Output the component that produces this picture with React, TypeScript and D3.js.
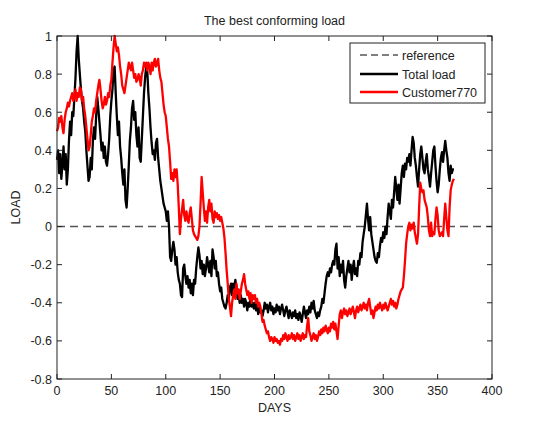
import React from "react";
import * as d3 from "d3";

const title = "The best conforming load";
const xLabel = "DAYS";
const yLabel = "LOAD";
const xTicks = [0, 50, 100, 150, 200, 250, 300, 350, 400];
const yTicks = [-0.8, -0.6, -0.4, -0.2, 0, 0.2, 0.4, 0.6, 0.8, 1];
const legendLabels = ["reference", "Total load", "Customer770"];
const referenceValue = 0;

// Daily values, day index 0..365
const totalLoad = [
  0.35, 0.40, 0.28, 0.38, 0.25, 0.33, 0.42, 0.30, 0.38, 0.22,
  0.30, 0.45, 0.55, 0.48, 0.60, 0.58, 0.68, 0.78, 0.92, 1.00,
  0.88, 0.80, 0.72, 0.66, 0.62, 0.55, 0.50, 0.40, 0.32, 0.24,
  0.26, 0.36, 0.30, 0.45, 0.52, 0.46, 0.58, 0.68, 0.62, 0.55,
  0.48, 0.40, 0.44, 0.36, 0.42, 0.34, 0.32, 0.38, 0.46, 0.58,
  0.66, 0.72, 0.82, 0.84, 0.70, 0.58, 0.48, 0.55, 0.42, 0.36,
  0.28, 0.22, 0.30, 0.14, 0.10, 0.20, 0.32, 0.45, 0.52, 0.62,
  0.66, 0.56, 0.60, 0.48, 0.42, 0.52, 0.36, 0.34, 0.46, 0.58,
  0.70, 0.78, 0.84, 0.82, 0.70, 0.62, 0.52, 0.44, 0.38, 0.40,
  0.35, 0.44, 0.46, 0.36, 0.30, 0.24, 0.20, 0.16, 0.12, 0.10,
  0.08, 0.03, 0.08, 0.00, -0.16, -0.18, -0.12, -0.08, -0.12, -0.20,
  -0.16, -0.24, -0.28, -0.30, -0.36, -0.37, -0.22, -0.20, -0.26, -0.30,
  -0.26, -0.32, -0.28, -0.35, -0.30, -0.36, -0.28, -0.30, -0.22, -0.16,
  -0.11, -0.15, -0.22, -0.18, -0.25, -0.20, -0.26, -0.22, -0.16, -0.20,
  -0.24, -0.18, -0.26, -0.12, -0.16, -0.22, -0.18, -0.26, -0.24, -0.30,
  -0.34, -0.32, -0.38, -0.40, -0.42, -0.43, -0.40, -0.36, -0.38, -0.32,
  -0.30, -0.36, -0.30, -0.34, -0.28, -0.32, -0.38, -0.36, -0.40, -0.36,
  -0.40, -0.38, -0.42, -0.38, -0.40, -0.44, -0.40, -0.42, -0.38, -0.42,
  -0.40, -0.43, -0.40, -0.44, -0.40, -0.46, -0.42, -0.45, -0.44, -0.47,
  -0.44, -0.40, -0.43, -0.41, -0.45, -0.42, -0.40, -0.44, -0.42, -0.46,
  -0.43, -0.45, -0.41, -0.44, -0.42, -0.46, -0.43, -0.41, -0.44, -0.47,
  -0.44, -0.42, -0.45, -0.48, -0.44, -0.46, -0.48, -0.45, -0.47, -0.44,
  -0.48, -0.46, -0.49, -0.45, -0.47, -0.50, -0.46, -0.42, -0.45, -0.48,
  -0.44, -0.46, -0.42, -0.45, -0.40, -0.43, -0.39, -0.44, -0.46, -0.48,
  -0.45, -0.47, -0.44, -0.42, -0.38, -0.40, -0.35, -0.30, -0.26, -0.24,
  -0.26, -0.22, -0.24, -0.20, -0.18, -0.20, -0.12, -0.09, -0.22, -0.16,
  -0.26, -0.20, -0.24, -0.18, -0.28, -0.32, -0.26, -0.22, -0.18, -0.24,
  -0.20, -0.28, -0.22, -0.18, -0.25, -0.22, -0.26, -0.18, -0.20, -0.14,
  -0.16, -0.08, -0.04, 0.00, 0.06, 0.12, 0.04, -0.02, 0.05, -0.04,
  -0.08, -0.12, -0.16, -0.18, -0.19, -0.14, -0.16, -0.10, -0.06, -0.08,
  -0.03, -0.06, 0.00, -0.04, 0.05, 0.12, 0.08, 0.04, 0.14, 0.10,
  0.18, 0.26, 0.20, 0.14, 0.22, 0.12, 0.20, 0.28, 0.32, 0.26,
  0.33, 0.30, 0.36, 0.34, 0.38, 0.32, 0.40, 0.47, 0.44, 0.36,
  0.32, 0.26, 0.21, 0.30, 0.38, 0.42, 0.36, 0.30, 0.28, 0.34,
  0.38, 0.30, 0.26, 0.21, 0.28, 0.34, 0.40, 0.42, 0.32, 0.24,
  0.18, 0.22, 0.30, 0.36, 0.39, 0.34, 0.40, 0.45, 0.40, 0.36,
  0.28, 0.24, 0.32, 0.28, 0.30, 0.30,
];

const customer770 = [
  0.50, 0.52, 0.57, 0.55, 0.58, 0.52, 0.49, 0.56, 0.60, 0.62,
  0.65, 0.63, 0.66, 0.68, 0.70, 0.66, 0.68, 0.72, 0.66, 0.70,
  0.68, 0.73, 0.72, 0.66, 0.68, 0.62, 0.58, 0.52, 0.46, 0.40,
  0.42, 0.48, 0.55, 0.58, 0.62, 0.60, 0.66, 0.70, 0.74, 0.77,
  0.72, 0.66, 0.62, 0.64, 0.68, 0.64, 0.66, 0.70, 0.68, 0.74,
  0.77, 0.86, 0.94, 1.00, 0.96, 0.92, 0.94, 0.90, 0.84, 0.80,
  0.74, 0.72, 0.70, 0.74, 0.78, 0.82, 0.86, 0.84, 0.82, 0.86,
  0.82, 0.78, 0.80, 0.76, 0.77, 0.80, 0.78, 0.74, 0.80, 0.82,
  0.86, 0.84, 0.86, 0.82, 0.86, 0.84, 0.80, 0.86, 0.82, 0.86,
  0.88, 0.84, 0.86, 0.88, 0.82, 0.78, 0.76, 0.70, 0.64, 0.60,
  0.58, 0.52, 0.46, 0.42, 0.34, 0.25, 0.28, 0.24, 0.30, 0.26,
  0.30, 0.22, 0.10, -0.04, 0.04, 0.09, 0.14, 0.06, 0.03, 0.08,
  0.04, 0.02, 0.07, 0.10, 0.04, -0.02, -0.04, -0.05, -0.06, -0.07,
  -0.05, 0.00, 0.12, 0.26, 0.18, 0.10, 0.03, 0.08, 0.02, 0.10,
  0.14, 0.08, 0.12, 0.04, 0.02, 0.08, 0.05, 0.07, 0.04, 0.06,
  0.03, 0.05, 0.02, -0.01, -0.06, -0.14, -0.23, -0.30, -0.38, -0.42,
  -0.47, -0.40, -0.36, -0.33, -0.38, -0.30, -0.35, -0.33, -0.38, -0.34,
  -0.30, -0.28, -0.25, -0.30, -0.33, -0.36, -0.34, -0.38, -0.35, -0.40,
  -0.36, -0.38, -0.36, -0.40, -0.38, -0.42, -0.40, -0.42, -0.46, -0.50,
  -0.49, -0.52, -0.54, -0.56, -0.55, -0.58, -0.60, -0.58, -0.59, -0.61,
  -0.58, -0.60, -0.59, -0.61, -0.60, -0.62, -0.59, -0.60, -0.57, -0.59,
  -0.56, -0.58, -0.60, -0.57, -0.59, -0.58, -0.56, -0.59, -0.57, -0.60,
  -0.58, -0.56, -0.59, -0.57, -0.60, -0.58, -0.56, -0.59, -0.57, -0.58,
  -0.52, -0.48, -0.55, -0.57, -0.60, -0.58, -0.56, -0.59, -0.57, -0.60,
  -0.58, -0.55, -0.57, -0.54, -0.56, -0.53, -0.55, -0.52, -0.54, -0.56,
  -0.53, -0.55, -0.51, -0.53, -0.50, -0.54, -0.51, -0.55, -0.59, -0.52,
  -0.46, -0.44, -0.48, -0.45, -0.43, -0.46, -0.44, -0.47, -0.45, -0.43,
  -0.46, -0.44, -0.42, -0.45, -0.48, -0.44, -0.42, -0.45, -0.43, -0.41,
  -0.44, -0.42, -0.40, -0.43, -0.41, -0.44, -0.40, -0.38, -0.42, -0.46,
  -0.44, -0.48, -0.45, -0.42, -0.44, -0.41, -0.43, -0.40, -0.42, -0.44,
  -0.41, -0.43, -0.40, -0.42, -0.44, -0.42, -0.40, -0.38, -0.41, -0.39,
  -0.42, -0.40, -0.43, -0.41, -0.38, -0.36, -0.34, -0.33, -0.32, -0.26,
  -0.18, -0.09, -0.04, 0.00, 0.02, -0.02, 0.01, -0.01, 0.02, -0.03,
  -0.06, -0.09, -0.04, 0.10, 0.23, 0.20, 0.18, 0.19, 0.14, 0.12,
  0.10, 0.05, -0.02, -0.05, 0.02, -0.05, -0.03, -0.04, 0.04, 0.10,
  0.06, -0.02, -0.05, -0.04, -0.03, -0.05, 0.04, 0.12, 0.05, -0.02,
  -0.05, 0.10, 0.19, 0.22, 0.24, 0.25,
];

const W = 537;
const H = 436;
const M = { left: 57, top: 36, right: 45, bottom: 57 };
const FONT = "Arial, 'Liberation Sans', Helvetica, sans-serif";
const FS = 12.5;

export default function App() {
  const x = d3.scaleLinear().domain([0, 400]).range([M.left, W - M.right]);
  const y = d3.scaleLinear().domain([-0.8, 1]).range([H - M.bottom, M.top]);
  const line = d3
    .line<number>()
    .x((_, i) => x(i))
    .y((d) => y(d));

  const x0 = x(0), x1 = x(400), y0 = y(-0.8), y1 = y(1);
  const tk = 5;

  const legendX = 350, legendY = 43, legendW = 135, legendH = 60;
  const rowY = [55, 74, 92];
  const legendStyles = [
    { stroke: "#000", width: 1, dash: "7,4" },
    { stroke: "#000", width: 2.3, dash: undefined },
    { stroke: "#ff0000", width: 2.3, dash: undefined },
  ];

  return (
    <svg width={W} height={H} style={{ position: "absolute", left: 0, top: 0, background: "#fff" }}>
      <rect x={0} y={0} width={W} height={H} fill="#fff" />
      {/* reference line */}
      <line
        x1={x0}
        x2={x1}
        y1={y(referenceValue)}
        y2={y(referenceValue)}
        stroke="#555"
        strokeWidth={1.6}
        strokeDasharray="8,5"
      />
      <path d={line(totalLoad) || ""} fill="none" stroke="#000" strokeWidth={2.3} strokeLinejoin="round" />
      <path d={line(customer770) || ""} fill="none" stroke="#ff0000" strokeWidth={2.3} strokeLinejoin="round" />

      {/* axes box */}
      <rect x={x0} y={y1} width={x1 - x0} height={y0 - y1} fill="none" stroke="#222" strokeWidth={1} />
      {xTicks.map((t) => (
        <g key={"xt" + t}>
          <line x1={x(t)} x2={x(t)} y1={y0} y2={y0 - tk} stroke="#222" />
          <line x1={x(t)} x2={x(t)} y1={y1} y2={y1 + tk} stroke="#222" />
          <text x={x(t)} y={y0 + 16} textAnchor="middle" fontSize={FS} fontFamily={FONT} fill="#222">
            {t}
          </text>
        </g>
      ))}
      {yTicks.map((t) => (
        <g key={"yt" + t}>
          <line x1={x0} x2={x0 + tk} y1={y(t)} y2={y(t)} stroke="#222" />
          <line x1={x1} x2={x1 - tk} y1={y(t)} y2={y(t)} stroke="#222" />
          <text x={x0 - 5} y={y(t) + 4.5} textAnchor="end" fontSize={FS} fontFamily={FONT} fill="#222">
            {String(Math.round(t * 10) / 10)}
          </text>
        </g>
      ))}
      <text x={(x0 + x1) / 2} y={25} textAnchor="middle" fontSize={FS} fontFamily={FONT} fill="#222">
        {title}
      </text>
      <text x={(x0 + x1) / 2} y={y0 + 33} textAnchor="middle" fontSize={FS} fontFamily={FONT} fill="#222">
        {xLabel}
      </text>
      <text
        x={0}
        y={0}
        transform={`translate(20, ${(y0 + y1) / 2}) rotate(-90)`}
        textAnchor="middle"
        fontSize={FS}
        fontFamily={FONT}
        fill="#222"
      >
        {yLabel}
      </text>

      {/* legend */}
      <rect x={legendX} y={legendY} width={legendW} height={legendH} fill="#fff" stroke="#222" strokeWidth={1} />
      {legendLabels.map((lab, i) => (
        <g key={lab}>
          <line
            x1={360}
            x2={398}
            y1={rowY[i]}
            y2={rowY[i]}
            stroke={legendStyles[i].stroke}
            strokeWidth={legendStyles[i].width}
            strokeDasharray={legendStyles[i].dash}
          />
          <text x={402} y={rowY[i] + 4.5} fontSize={FS} fontFamily={FONT} fill="#222">
            {lab}
          </text>
        </g>
      ))}
    </svg>
  );
}
